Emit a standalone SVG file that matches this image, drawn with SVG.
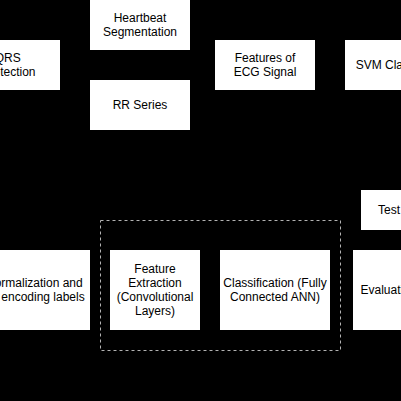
<svg xmlns="http://www.w3.org/2000/svg" width="401" height="401" viewBox="0 0 401 401">
<style>
.box{fill:#ffffff;stroke:none}
.t{font-family:"Liberation Sans",Arial,Helvetica,sans-serif;font-size:12px;fill:#000000;text-anchor:middle}
.s{text-anchor:start}
.e{text-anchor:end}
.grp{fill:none;stroke:#b3b3b3;stroke-width:1;stroke-dasharray:3 3}
</style>
<rect x="0" y="0" width="401" height="401" fill="#000000"/>
<g id="group-cnn"><rect class="grp" x="100.5" y="220.5" width="240" height="130"/></g>
<g id="qrs-detection"><rect class="box" x="-40" y="40" width="100" height="50"/><text class="t e" x="20.7" y="62">QRS</text><text class="t e" x="35.5" y="76">Detection</text></g>
<g id="heartbeat-segmentation"><rect class="box" x="90" y="0" width="100" height="50"/><text class="t" x="140" y="22">Heartbeat</text><text class="t" x="140" y="36">Segmentation</text></g>
<g id="rr-series"><rect class="box" x="90" y="80" width="100" height="50"/><text class="t" x="140" y="109">RR Series</text></g>
<g id="features-ecg"><rect class="box" x="215" y="40" width="100" height="50"/><text class="t" x="265" y="62">Features of</text><text class="t" x="265" y="76">ECG Signal</text></g>
<g id="svm-classifier"><rect class="box" x="345" y="40" width="100" height="50"/><text class="t" x="395" y="69">SVM Classifier</text></g>
<g id="test"><rect class="box" x="361" y="190" width="60" height="40"/><text class="t s" x="378" y="214">Test</text></g>
<g id="normalization"><rect class="box" x="-50" y="250" width="140" height="80"/><text class="t e" x="82.7" y="287">Normalization and</text><text class="t e" x="84.7" y="301">encoding labels</text></g>
<g id="feature-extraction"><rect class="box" x="110" y="250" width="90" height="80"/><text class="t" x="155" y="273">Feature</text><text class="t" x="155" y="287">Extraction</text><text class="t" x="155" y="301">(Convolutional</text><text class="t" x="155" y="315">Layers)</text></g>
<g id="classification"><rect class="box" x="220" y="250" width="110" height="80"/><text class="t" x="275" y="287">Classification (Fully</text><text class="t" x="275" y="301">Connected ANN)</text></g>
<g id="evaluation"><rect class="box" x="353" y="250" width="60" height="80"/><text class="t s" x="360.5" y="294">Evaluation</text></g>
<g id="connectors"></g>
</svg>
